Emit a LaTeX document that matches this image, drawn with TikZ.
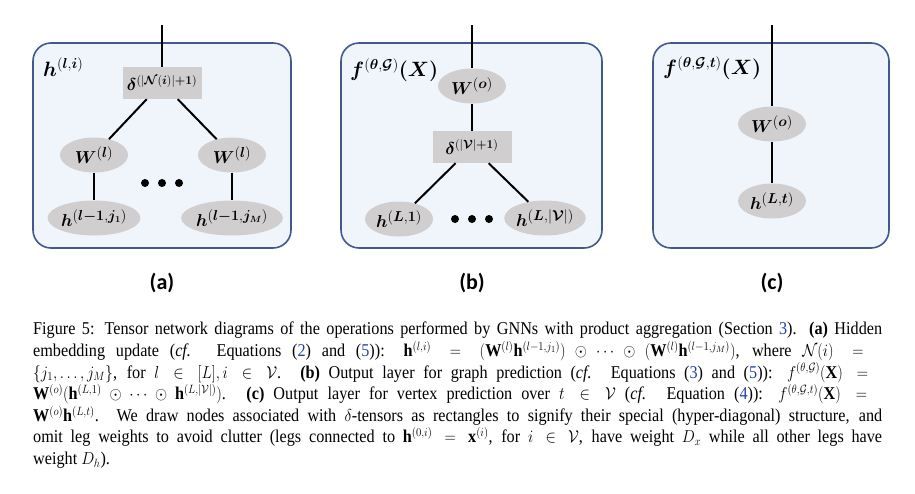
\documentclass[tikz,border=0pt]{standalone}
\usepackage{amsmath,amssymb,bm,graphicx}
\usepackage{fontspec}
\setmainfont{Liberation Serif}
\newfontfamily\subfont{Carlito}
\usetikzlibrary{shapes.geometric}
\definecolor{boxfill}{HTML}{F0F5FB}
\definecolor{boxdraw}{HTML}{41598F}
\definecolor{nodegray}{HTML}{D0CECE}
\definecolor{linkblue}{HTML}{1F3FA8}
\newcommand{\lk}[1]{\textcolor{linkblue}{#1}}
\begin{document}
\begin{tikzpicture}[x=1pt,y=-1pt,
  panel/.style={draw=boxdraw,fill=boxfill,line width=1.6pt,rounded corners=18pt},
  ten/.style={ellipse,fill=nodegray,minimum width=68pt,minimum height=35pt,inner sep=0pt,font=\fontsize{19}{21}\selectfont},
  delta/.style={rectangle,fill=nodegray,minimum width=79pt,minimum height=32pt,inner sep=0pt,font=\fontsize{18}{20}\selectfont},
  leg/.style={line width=2pt},
  lbl/.style={anchor=west,font=\fontsize{21}{24}\selectfont,inner sep=0pt},
  sub/.style={font=\subfont\bfseries\fontsize{22}{24}\selectfont},
  dot/.style={circle,fill=black,inner sep=0pt,minimum size=8pt}]
\useasboundingbox (0,0) rectangle (915,493);
% panel a
\draw[panel] (33,43) rectangle (291,248);
\node[lbl] (la) at (43,67) {$\bm{h}^{(\bm{l},\bm{i})}$};
\node[delta] (da) at (162,83) {$\bm{\delta}^{(|\bm{\mathcal{N}}(\bm{i})|\bm{+1})}$};
\coordinate (ta) at (162,25);
\node[ten] (wa1) at (94,155) {$\bm{W}^{(\bm{l})}$};
\node[ten] (wa2) at (232,155) {$\bm{W}^{(\bm{l})}$};
\node[ten] (ha1) at (94,218) {$\bm{h}^{(\bm{l}\bm{-1},\bm{j_1})}$};
\node[ten] (ha2) at (232,218) {$\bm{h}^{(\bm{l}\bm{-1},\bm{j_M})}$};
\node[dot] (dta1) at (145,183) {};
\node[dot] (dta2) at (162,183) {};
\node[dot] (dta3) at (179,183) {};
\draw[leg] (ta) -- (da);
\draw[leg] (da) -- (wa1);
\draw[leg] (da) -- (wa2);
\draw[leg] (wa1) -- (ha1);
\draw[leg] (wa2) -- (ha2);
\node[sub] (sa) at (162,283) {(a)};
% panel b
\draw[panel] (341,43) rectangle (602,248);
\node[lbl] (lb) at (350,70) {$\bm{f}^{(\bm{\theta},\bm{\mathcal{G}})}\bm{(X)}$};
\coordinate (tb) at (472,25);
\node[ten] (wb) at (472,86) {$\bm{W}^{(\bm{o})}$};
\node[delta] (db) at (472,147) {$\bm{\delta}^{(|\bm{\mathcal{V}}|\bm{+1})}$};
\node[ten] (hb1) at (399,219) {$\bm{h}^{(\bm{L},\bm{1})}$};
\node[ten] (hb2) at (545,218) {$\bm{h}^{(\bm{L},|\bm{\mathcal{V}}|)}$};
\node[dot] (dtb1) at (455,219) {};
\node[dot] (dtb2) at (472,219) {};
\node[dot] (dtb3) at (489,219) {};
\draw[leg] (tb) -- (wb);
\draw[leg] (wb) -- (db);
\draw[leg] (db) -- (hb1);
\draw[leg] (db) -- (hb2);
\node[sub] (sb) at (472,283) {(b)};
% panel c
\draw[panel] (653,43) rectangle (889,248);
\node[lbl] (lc) at (663,68) {$\bm{f}^{(\bm{\theta},\bm{\mathcal{G}},\bm{t})}\bm{(X)}$};
\coordinate (tc) at (772,25);
\node[ten] (wc) at (772,124) {$\bm{W}^{(\bm{o})}$};
\node[ten] (hc) at (772,201) {$\bm{h}^{(\bm{L},\bm{t})}$};
\draw[leg] (tc) -- (wc);
\draw[leg] (wc) -- (hc);
\node[sub] (sc) at (772,283) {(c)};
% caption
\node[anchor=north west,inner sep=0pt] (cap) at (33,322) {\scalebox{0.9}[1]{\parbox[t]{943.3pt}{\fontsize{18}{21.6}\selectfont\noindent Figure 5: Tensor network diagrams of the operations performed by GNNs with product aggregation (Section~\lk{3}). \textbf{(a)} Hidden\linebreak embedding update (\emph{cf.} Equations (\lk{2}) and (\lk{5})): $\mathbf{h}^{(l,i)}=(\mathbf{W}^{(l)}\mathbf{h}^{(l-1,j_1)})\odot\cdots\odot(\mathbf{W}^{(l)}\mathbf{h}^{(l-1,j_M)})$, where $\mathcal{N}(i)={}$\linebreak $\{j_1,\ldots,j_M\}$, for $l\in[L], i\in\mathcal{V}$. \textbf{(b)} Output layer for graph prediction (\emph{cf.} Equations (\lk{3}) and (\lk{5})): $f^{(\theta,\mathcal{G})}(\mathbf{X})={}$\linebreak $\mathbf{W}^{(o)}(\mathbf{h}^{(L,1)}\odot\cdots\odot\mathbf{h}^{(L,|\mathcal{V}|)})$. \textbf{(c)} Output layer for vertex prediction over $t\in\mathcal{V}$ (\emph{cf.} Equation (\lk{4})): $f^{(\theta,\mathcal{G},t)}(\mathbf{X})={}$\linebreak $\mathbf{W}^{(o)}\mathbf{h}^{(L,t)}$. We draw nodes associated with $\delta$-tensors as rectangles to signify their special (hyper-diagonal) structure, and\linebreak omit leg weights to avoid clutter (legs connected to $\mathbf{h}^{(0,i)}=\mathbf{x}^{(i)}$, for $i\in\mathcal{V}$, have weight $D_x$ while all other legs have\linebreak weight $D_h$).}}};
\end{tikzpicture}
\end{document}
